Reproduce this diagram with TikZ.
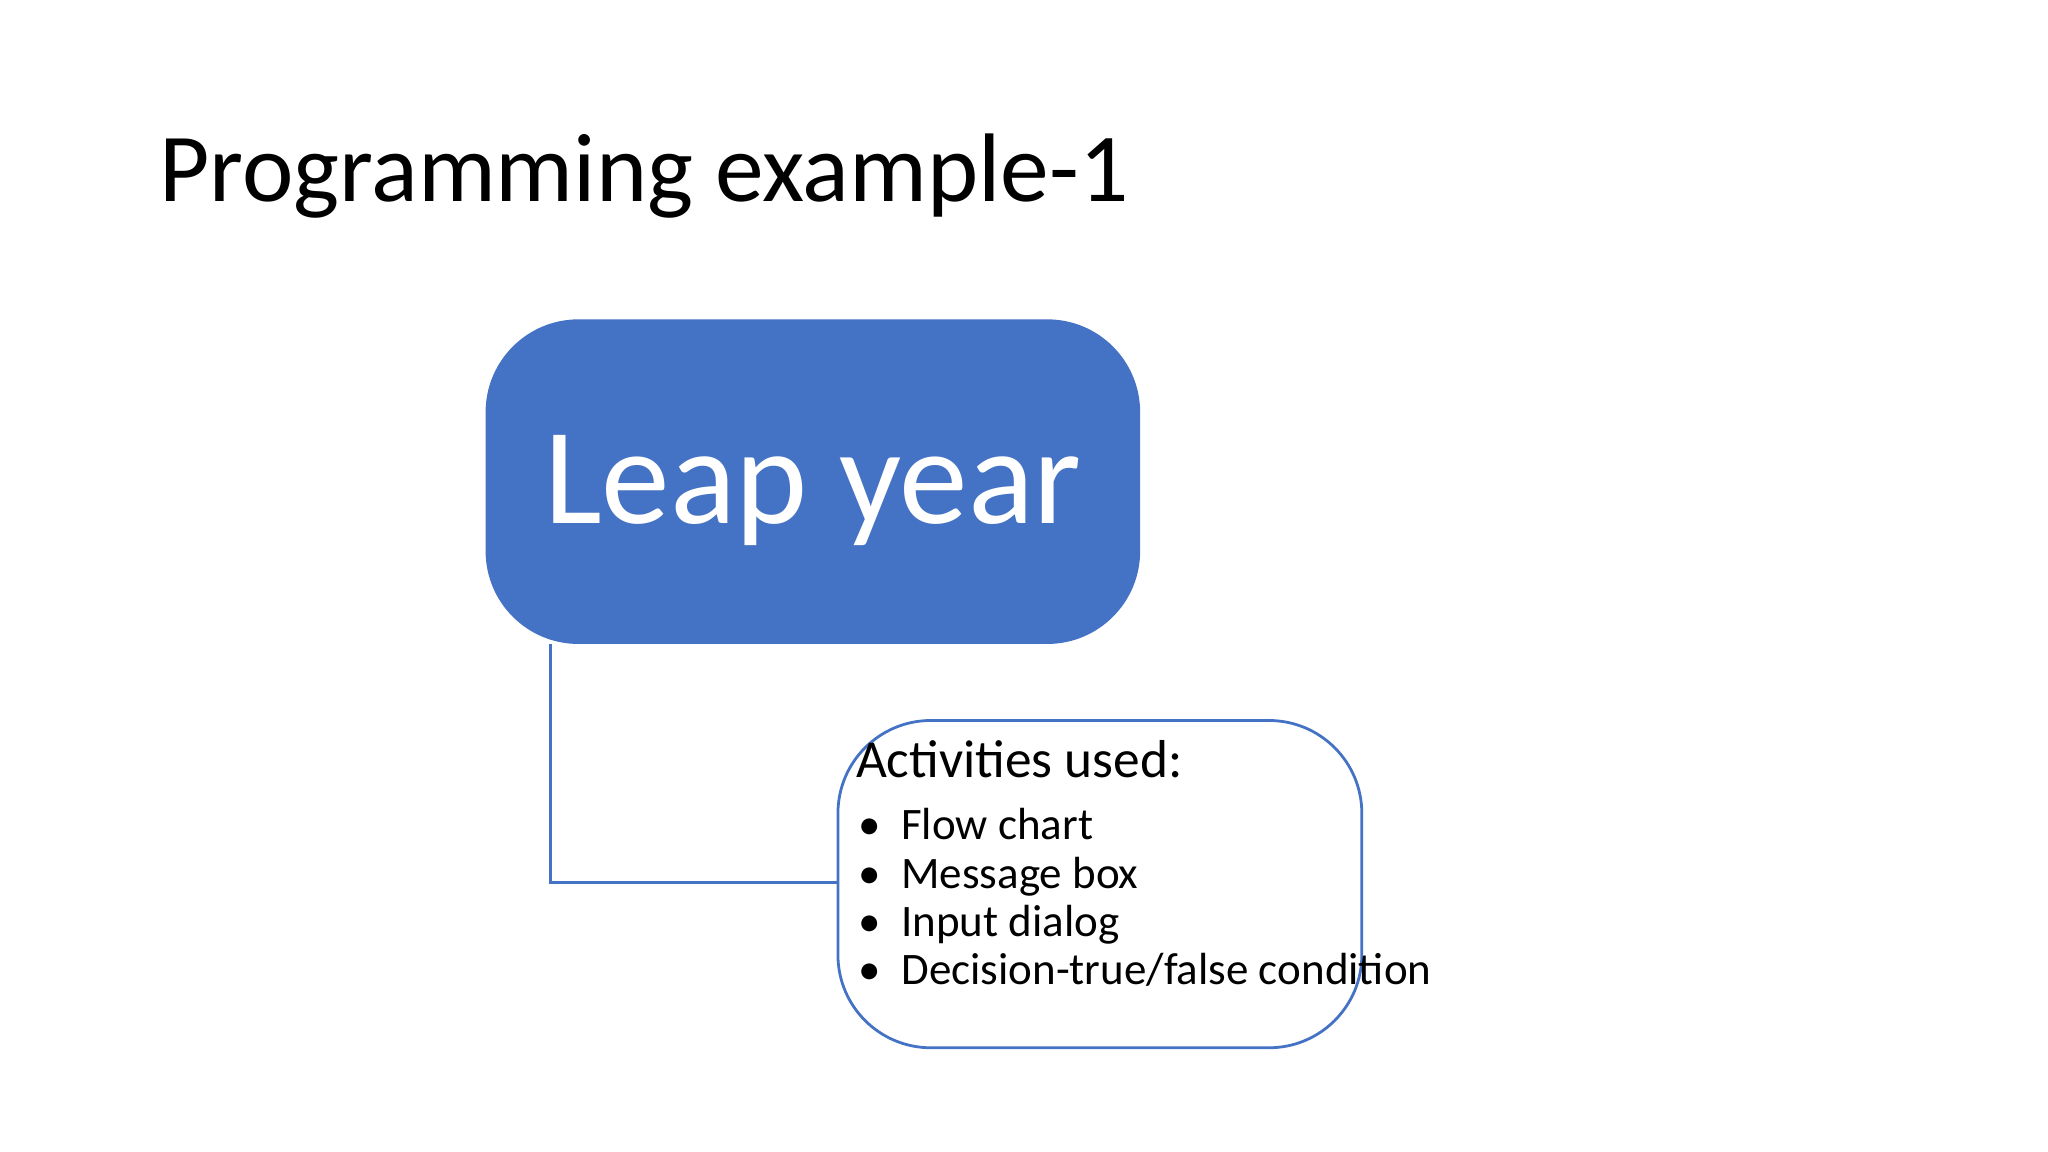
\documentclass[tikz,border=0pt]{standalone}
\usepackage{fontspec}
\setmainfont{Carlito}
\definecolor{accent}{HTML}{4472C4}
\begin{document}
\begin{tikzpicture}[x=0.01cm,y=-0.01cm,
  lbl/.style={anchor=base west,inner sep=0pt,font=\fontsize{9.7pt}{11pt}\selectfont}]
\useasboundingbox (0,0) rectangle (1552,873);
\node[anchor=base west,inner sep=0pt,font=\fontsize{21pt}{25pt}\selectfont] (title) at (120,153) {Programming example-1};
\fill[accent,rounded corners=20] (368,242) rectangle (864,488);
\node[inner sep=0pt,text=white,font=\fontsize{29.6pt}{34pt}\selectfont,anchor=base] (leap) at (616,397) {Leap year};
\coordinate (lp) at (417,488);
\draw[accent,line width=0.6pt,rounded corners=20] (635,546) rectangle (1032,794);
\coordinate (act) at (635,669);
\draw[accent,line width=0.6pt] (lp) |- (act);
\node[anchor=base west,inner sep=0pt,font=\fontsize{11.5pt}{13pt}\selectfont] (h) at (648,589) {Activities used:};
\node[lbl] (b1) at (650,636) {\textbullet\hspace{0.45em}Flow chart};
\node[lbl] (b2) at (650,673) {\textbullet\hspace{0.45em}Message box};
\node[lbl] (b3) at (650,710) {\textbullet\hspace{0.45em}Input dialog};
\node[lbl] (b4) at (650,746) {\textbullet\hspace{0.45em}Decision-true/false condition};
\end{tikzpicture}
\end{document}
